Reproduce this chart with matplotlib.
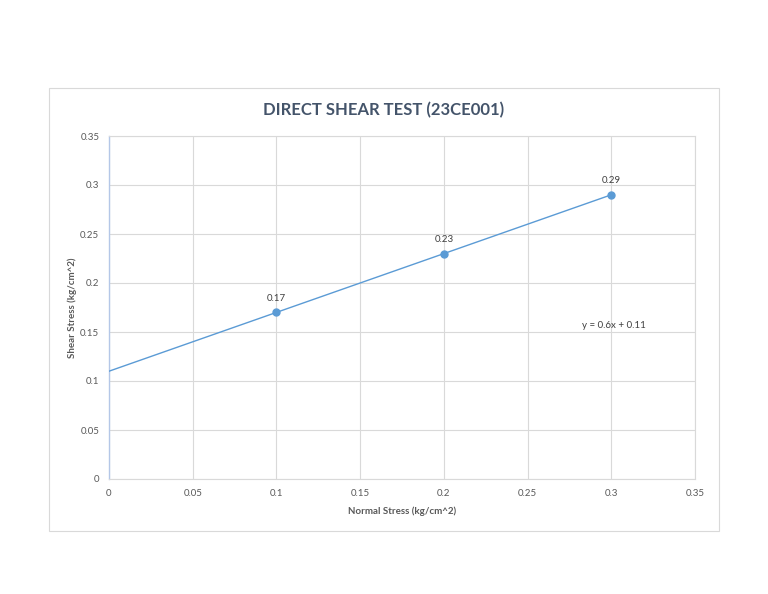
import matplotlib
matplotlib.use("Agg")
import matplotlib.pyplot as plt
import numpy as np
from matplotlib.patches import Rectangle

normal_stress = [0.1, 0.2, 0.3]
shear_stress = [0.17, 0.23, 0.29]
point_labels = ["0.17", "0.23", "0.29"]
x_ticks = [0, 0.05, 0.1, 0.15, 0.2, 0.25, 0.3, 0.35]
y_ticks = [0, 0.05, 0.1, 0.15, 0.2, 0.25, 0.3, 0.35]
tick_labels = ["0", "0.05", "0.1", "0.15", "0.2", "0.25", "0.3", "0.35"]
trend_x = [0.0, 0.3]

plt.rcParams['font.family'] = ['Lato', 'DejaVu Sans']

fig = plt.figure(figsize=(7.68, 5.94), dpi=100)
fig.patch.set_facecolor("white")
# chart area border
fig.patches.append(Rectangle((49/768, 1-531/594), (719-49)/768, (531-88)/594,
                             transform=fig.transFigure, fill=False,
                             edgecolor="#d9d9d9", linewidth=0.8))

ax = fig.add_axes([109/768, 1-479/594, (695-109)/768, (479-136)/594])
ax.set_xlim(0, 0.35)
ax.set_ylim(0, 0.35)
ax.set_xticks(x_ticks)
ax.set_yticks(y_ticks)
ax.set_xticklabels(tick_labels)
ax.set_yticklabels(tick_labels)
ax.grid(True, color="#d9d9d9", linewidth=0.8)
ax.set_axisbelow(True)
ax.tick_params(length=0, labelsize=7, colors="#595959", pad=7)
for s in ["top", "right", "bottom"]:
    ax.spines[s].set_color("#d9d9d9")
    ax.spines[s].set_linewidth(0.8)
ax.spines["left"].set_color("#b4c7e7")
ax.spines["left"].set_linewidth(1.0)

slope, intercept = np.polyfit(normal_stress, shear_stress, 1)
tx = np.array(trend_x)
ax.plot(tx, slope * tx + intercept, color="#5b9bd5", linewidth=1.0, zorder=3)
ax.plot(normal_stress, shear_stress, 'o', color="#5b9bd5", markersize=5, zorder=4)
for x, y, lab in zip(normal_stress, shear_stress, point_labels):
    ax.annotate(lab, (x, y), xytext=(0, 7), textcoords="offset points",
                ha="center", va="bottom", fontsize=7, color="#404040")
ax.text(0.3016, 0.157, f"y = {slope:.1f}x + {intercept:.2f}", ha="center", va="center",
        fontsize=7, color="#404040")

ax.set_xlabel("Normal Stress (kg/cm^2)", fontsize=7, fontweight="bold", color="#595959", labelpad=6)
ax.set_ylabel("Shear Stress (kg/cm^2)", fontsize=7, fontweight="bold", color="#595959", labelpad=2)
fig.text(384/768, 1-110/594, "DIRECT SHEAR TEST (23CE001)", ha="center", va="center",
         fontsize=12, fontweight="bold", color="#44546a")

fig.savefig("out.png", dpi=100)
